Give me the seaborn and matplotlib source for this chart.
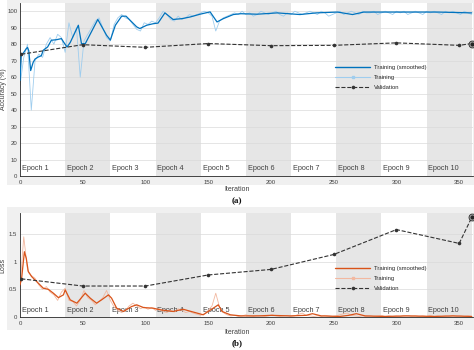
import numpy as np
import pandas as pd
import matplotlib
matplotlib.use("Agg")
import matplotlib.pyplot as plt
from matplotlib.patches import Rectangle
from matplotlib.lines import Line2D
import seaborn as sns

sns.set_theme(style="white")
plt.rcParams['font.family'] = ['Liberation Sans', 'DejaVu Sans']

# ---------------- data ----------------
epochs = ["Epoch 1", "Epoch 2", "Epoch 3", "Epoch 4", "Epoch 5",
          "Epoch 6", "Epoch 7", "Epoch 8", "Epoch 9", "Epoch 10"]
iters_per_epoch = 36
x_ticks = [0, 50, 100, 150, 200, 250, 300, 350]

# smoothed training accuracy (iteration, %)
acc_s_it = [0, 1, 3, 5, 6, 7, 8.5, 10.5, 12, 14.5, 17, 18.5, 22, 25, 29, 33, 35,
            37.5, 40, 46.5, 49, 52, 62, 69, 72, 76, 81, 84.5, 93, 95.5, 101, 106,
            110, 115.5, 122, 129, 135.5, 143.5, 151.5, 157, 162, 170, 176, 189,
            205, 223, 236, 253, 265, 274, 306, 333, 360]
acc_s_val = [58, 73, 75, 77.3, 78, 76, 64, 69, 71, 72.2, 73, 76.3, 78.3, 82.4, 82.7,
             83.4, 81, 78.3, 81, 91.5, 80.3, 80.3, 95, 85.4, 82.5, 91.5, 97, 97, 90.5,
             89.5, 91.5, 92.4, 92.8, 99, 95, 95.5, 96.5, 98.2, 99.6, 93.5, 95.5, 98,
             98.5, 98.2, 99, 98, 99, 99.5, 98, 99.5, 99.5, 99.5, 99]

# raw training accuracy (every 3 iterations)
acc_r_it = list(range(0, 361, 3))
acc_r_val = [55, 72, 80, 40, 70, 74, 72, 80, 84, 80, 86, 84, 75, 93, 84, 90, 60, 82,
             86, 90, 94, 96, 90, 84, 82, 92, 96, 98, 96, 95, 92, 89, 88, 93, 92, 94,
             93, 96, 100, 98, 95, 94, 97, 95, 96, 98, 97, 98, 99, 100, 99, 97, 88, 94,
             96, 97, 98, 99, 98, 100, 98, 99, 97, 98, 100, 99, 98, 99, 100, 98, 97, 99,
             98, 100, 99, 98, 99, 100, 99, 98, 100, 99, 97, 98, 99, 100, 98, 99, 100, 99,
             98, 100, 99, 99, 100, 98, 99, 100, 99, 98, 100, 99, 100, 98, 99, 100, 99,
             98, 100, 99, 100, 99, 98, 100, 99, 100, 99, 98, 100, 99, 98]

# validation accuracy
val_it = [1, 50, 100, 150, 200, 250, 300, 350, 360]
val_acc = [73.9, 79.7, 78.1, 80.4, 79.1, 79.3, 80.8, 79.3, 80.4]

# smoothed training loss
loss_s_it = [0, 1.3, 3.5, 5, 6.6, 9.3, 13.3, 18.6, 22.6, 26.6, 30.6, 34.6, 36, 40,
             45.3, 52, 56, 61, 65, 70.5, 73, 77, 82.5, 89, 93, 98.5, 106, 111.7, 122,
             130, 138, 146, 154, 158, 161, 167.6, 176, 190, 200, 215, 228, 233, 240,
             255, 262, 268, 275, 290, 310, 330, 345, 360]
loss_s_val = [0.58, 0.70, 1.18, 1.06, 0.82, 0.73, 0.64, 0.52, 0.50, 0.43, 0.35, 0.40,
              0.49, 0.31, 0.25, 0.43, 0.34, 0.25, 0.31, 0.40, 0.34, 0.16, 0.10, 0.19,
              0.22, 0.17, 0.16, 0.13, 0.10, 0.14, 0.09, 0.04, 0.16, 0.22, 0.10, 0.04,
              0.02, 0.02, 0.03, 0.02, 0.03, 0.06, 0.02, 0.01, 0.03, 0.06, 0.02, 0.01,
              0.02, 0.01, 0.02, 0.01]

# raw training loss (every 3 iterations)
loss_r_it = list(range(0, 361, 3))
loss_r_val = [0.55, 1.45, 0.85, 0.75, 0.70, 0.58, 0.50, 0.55, 0.45, 0.40, 0.30, 0.45,
              0.52, 0.30, 0.28, 0.20, 0.30, 0.48, 0.35, 0.30, 0.22, 0.28, 0.35, 0.48,
              0.30, 0.18, 0.12, 0.08, 0.12, 0.20, 0.25, 0.20, 0.15, 0.18, 0.14, 0.17,
              0.12, 0.15, 0.10, 0.08, 0.12, 0.09, 0.15, 0.12, 0.08, 0.10, 0.07, 0.05,
              0.03, 0.06, 0.12, 0.20, 0.43, 0.18, 0.08, 0.04, 0.02, 0.03, 0.01, 0.02,
              0.04, 0.02, 0.01, 0.03, 0.02, 0.01, 0.02, 0.04, 0.02, 0.01, 0.02, 0.03,
              0.01, 0.02, 0.05, 0.07, 0.03, 0.02, 0.01, 0.02, 0.01, 0.03, 0.02, 0.01,
              0.02, 0.04, 0.06, 0.07, 0.03, 0.02, 0.01, 0.02, 0.01, 0.02, 0.01, 0.02,
              0.03, 0.01, 0.02, 0.01, 0.02, 0.01, 0.03, 0.02, 0.01, 0.02, 0.01, 0.02,
              0.01, 0.03, 0.01, 0.02, 0.01, 0.02, 0.01, 0.02, 0.01, 0.02, 0.01, 0.02,
              0.01]

val_loss = [0.69, 0.56, 0.56, 0.76, 0.86, 1.13, 1.58, 1.33, 1.80]

# ---------------- styling ----------------
BLUE = "#0072BD"
LBLUE = "#9fcdee"
ORANGE = "#D95319"
LORANGE = "#f2b8a0"
VAL = "#333333"
PANEL = "#f0f0f0"
BAND = "#e6e6e6"
TXT = "#404040"

W, H = 474, 350
fig = plt.figure(figsize=(W / 100, H / 100), dpi=100)
fig.patch.set_facecolor("white")
fig.patches.append(Rectangle((7 / W, 1 - 185 / H), 1, 185 / H, transform=fig.transFigure,
                             facecolor=PANEL, edgecolor="none", zorder=-10))
fig.patches.append(Rectangle((7 / W, 1 - 330 / H), 1, 123 / H, transform=fig.transFigure,
                             facecolor=PANEL, edgecolor="none", zorder=-10))

ax1 = fig.add_axes([20 / W, 1 - 176 / H, 453 / W, 173 / H])
ax2 = fig.add_axes([20 / W, 1 - 317 / H, 453 / W, 104 / H])


def style(ax, ylim, yticks, yticklabels, ylabel, ep_y):
    ax.set_facecolor("white")
    ax.set_xlim(0, 361)
    ax.set_ylim(*ylim)
    for i, name in enumerate(epochs):
        s = i * iters_per_epoch
        if i % 2 == 1:
            ax.axvspan(s, s + iters_per_epoch, color=BAND, lw=0, zorder=0)
        ax.text(s + 1.5, ep_y, name, transform=ax.get_xaxis_transform(),
                fontsize=5.2, color=TXT, ha="left", va="center", zorder=1)
    ax.set_axisbelow(True)
    ax.yaxis.grid(True, color="#dadada", lw=0.5)
    ax.xaxis.grid(False)
    ax.set_xticks(x_ticks)
    ax.set_xticklabels([str(t) for t in x_ticks])
    ax.set_yticks(yticks)
    ax.set_yticklabels(yticklabels)
    ax.tick_params(axis="both", direction="in", length=2.5, width=0.5, labelsize=4.3,
                   labelcolor=TXT, color="#262626", pad=2)
    ax.tick_params(axis="x", pad=3)
    for sp in ["top", "right"]:
        ax.spines[sp].set_visible(False)
    for sp in ["left", "bottom"]:
        ax.spines[sp].set_color("#262626")
        ax.spines[sp].set_linewidth(0.6)
    ax.set_xlabel("")
    ax.set_ylabel(ylabel, fontsize=5, color=TXT)
    ax.yaxis.set_label_coords(-0.029, 0.5)


# ---- accuracy panel ----
sns.lineplot(x=acc_r_it, y=acc_r_val, ax=ax1, color=LBLUE, lw=0.6, zorder=2)
sns.lineplot(x=acc_s_it, y=acc_s_val, ax=ax1, color=BLUE, lw=0.9, zorder=3)
sns.lineplot(x=val_it, y=val_acc, ax=ax1, color=VAL, lw=0.8, linestyle="--",
             marker="o", markersize=2.6, markeredgewidth=0, zorder=4)
ax1.plot(val_it[-1], val_acc[-1], marker="o", markersize=5, mfc="#b0b0b0",
         mec="#262626", mew=0.6, zorder=5)
ax1.plot(val_it[-1], val_acc[-1], marker="o", markersize=2, color="#262626", zorder=6)
style(ax1, (0, 105), list(range(0, 101, 10)), [str(v) for v in range(0, 101, 10)],
      "Accuracy (%)", 0.045)

# ---- loss panel ----
sns.lineplot(x=loss_r_it, y=loss_r_val, ax=ax2, color=LORANGE, lw=0.6, zorder=2)
sns.lineplot(x=loss_s_it, y=loss_s_val, ax=ax2, color=ORANGE, lw=0.9, zorder=3)
sns.lineplot(x=val_it, y=val_loss, ax=ax2, color=VAL, lw=0.8, linestyle="--",
             marker="o", markersize=2.6, markeredgewidth=0, zorder=4)
ax2.plot(val_it[-1], val_loss[-1], marker="o", markersize=5, mfc="#b0b0b0",
         mec="#262626", mew=0.6, zorder=5)
ax2.plot(val_it[-1], val_loss[-1], marker="o", markersize=2, color="#262626", zorder=6)
style(ax2, (0, 1.88), [0, 0.5, 1, 1.5], ["0", "0.5", "1", "1.5"], "Loss", 0.06)


def legend(ax, c_dark, c_light, y):
    handles = [Line2D([], [], color=c_dark, lw=1.0),
               Line2D([], [], color=c_light, lw=0.8, marker="s", markersize=1.8),
               Line2D([], [], color=VAL, lw=0.8, ls="--", marker="o", markersize=2.6,
                      markeredgewidth=0)]
    labels = ["Training (smoothed)", "Training", "Validation"]
    lg = ax.legend(handles, labels, loc="center left", bbox_to_anchor=(0.69, y),
                   frameon=False, fontsize=4.2, handlelength=6.0, handletextpad=0.6,
                   labelspacing=0.9, borderpad=0)
    for t in lg.get_texts():
        t.set_color("#262626")


legend(ax1, BLUE, LBLUE, 0.57)
legend(ax2, ORANGE, LORANGE, 0.37)

fig.text(237 / W, 1 - 190 / H, "Iteration", ha="center", va="center", fontsize=5, color=TXT)
fig.text(237 / W, 1 - 332 / H, "Iteration", ha="center", va="center", fontsize=5, color=TXT)
fig.text(237 / W, 1 - 201 / H, "(a)", ha="center", va="center", fontsize=6.5,
         fontweight="bold", family=["Liberation Serif", "DejaVu Serif"], color="#111111")
fig.text(237 / W, 1 - 343 / H, "(b)", ha="center", va="center", fontsize=6.5,
         fontweight="bold", family=["Liberation Serif", "DejaVu Serif"], color="#111111")

fig.savefig("out.png", dpi=100)
